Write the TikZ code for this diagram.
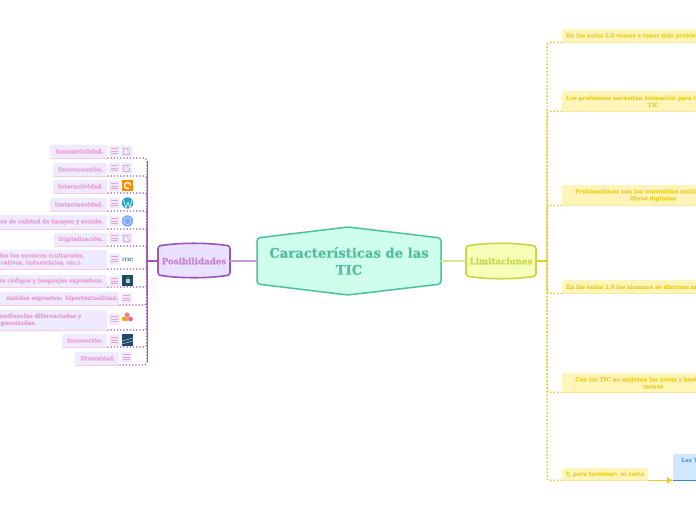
\documentclass[tikz,border=0pt]{standalone}
\usepackage{fontspec}
\setmainfont[BoldFeatures={FakeBold=0.5}]{DejaVu Serif}
\usetikzlibrary{arrows.meta,calc}
\definecolor{cenfill}{HTML}{CFFFEC}
\definecolor{cenline}{HTML}{4CBFA0}
\definecolor{cental}{HTML}{52BE9F}
\definecolor{posfill}{HTML}{E9E1FF}
\definecolor{posline}{HTML}{9B55B5}
\definecolor{postext}{HTML}{C985D2}
\definecolor{poslink}{HTML}{C99BD8}
\definecolor{limfill}{HTML}{F6FFB8}
\definecolor{limline}{HTML}{C9D63F}
\definecolor{limtext}{HTML}{CBD84E}
\definecolor{limlink}{HTML}{DFE68F}
\definecolor{itemfill}{HTML}{EFEAFD}
\definecolor{itemline}{HTML}{F8CDE0}
\definecolor{itemtext}{HTML}{E8A3D4}
\definecolor{yfill}{HTML}{FFF5B8}
\definecolor{yline}{HTML}{FCE9A0}
\definecolor{ytext}{HTML}{EBD22E}
\definecolor{ytrunk}{HTML}{E6CE1A}
\definecolor{bfill}{HTML}{CFE8FF}
\definecolor{bline}{HTML}{2E8FD8}
\definecolor{btext}{HTML}{6FA6CF}
\definecolor{wpblue}{HTML}{2AA3C8}
\definecolor{globeblue}{HTML}{7EA7F5}
\definecolor{ticgray}{HTML}{5F8A96}
\definecolor{darkicon}{HTML}{1F4A63}
\tikzset{
  leftbox/.style={fill=itemfill,rounded corners=1.5pt,inner sep=0pt,align=right,text=itemtext,font=\bfseries\fontsize{5.5}{7}\selectfont,anchor=south west},
  rightbox/.style={fill=yfill,rounded corners=1.5pt,inner sep=0pt,align=center,text=ytext,font=\bfseries\fontsize{5.5}{7}\selectfont,anchor=north west},
  leftunder/.style={itemline,line width=1pt},
  rightunder/.style={yline,line width=1pt},
  pdot/.style={posline,line width=1.2pt,dotted,rounded corners=3pt},
  ydot/.style={ytrunk,line width=1.5pt,dotted,rounded corners=3pt},
  iconbox/.style={fill=itemfill,rounded corners=1pt,inner sep=0pt,minimum width=11pt,minimum height=11pt,anchor=west},
  hub/.style={inner sep=0pt,align=center,font=\bfseries},
}
% note icon: three lines in a pale box
\newcommand{\noteicon}[3]{\node[iconbox] (#1) at (#2,#3) {};
  \foreach \dd in {-2.7,0,2.7}{\draw[itemtext,line width=.8pt] ($(#1.center)+(-3.3,\dd)$) -- ($(#1.center)+(3.3,\dd)$);}}
\newcommand{\linkicon}[3]{\node[iconbox] (#1) at (#2,#3) {};
  \draw[itemtext,line width=.5pt] ($(#1.center)+(1,-3)$) -- ($(#1.center)+(-3,-3)$) -- ($(#1.center)+(-3,3)$) -- ($(#1.center)+(3,3)$) -- ($(#1.center)+(3,0)$);
  \draw[itemtext,line width=.5pt] ($(#1.center)+(0,0)$) -- ($(#1.center)+(3.2,-3.2)$);}
% name, left, right, top, bottom, text
\newcommand{\leftitem}[6]{%
  \pgfmathsetmacro{\itemW}{#3-#2}\pgfmathsetmacro{\itemH}{#5-#4}%
  \node[leftbox,text width=\itemW pt,minimum height=\itemH pt] (#1) at (#2,#5) {#6\hspace*{4pt}};
  \draw[leftunder] (#1.south west) -- (#1.south east);
  \draw[pdot] (#1.south east) -| (ptrunk);}
% name, width, top, bottom, text
\newcommand{\rightitem}[5]{%
  \pgfmathsetmacro{\itemH}{#4-#3}%
  \node[rightbox,text width=#2pt,minimum height=\itemH pt] (#1) at (562,#3) {#5};
  \draw[rightunder] (#1.south west) -- (#1.south east);
  \draw[ydot] (#1.south west) -| (ytrunkc);}
\newcommand{\cutline}[2]{\makebox[182pt][l]{\hspace*{#1}#2}}
\newcommand{\padend}[1]{\rule{#1}{0pt}}
\begin{document}
\begin{tikzpicture}[x=1pt,y=-1pt]
\useasboundingbox (0,0) rectangle (696,520);
\clip (0,0) rectangle (696,520);
\fill[white] (0,0) rectangle (696,520);

% hubs: outlines
\draw[cenline,fill=cenfill,line width=1.5pt,rounded corners=3pt]
  (257,238) -- (348,227) -- (441,238) -- (441,284) -- (348,295) -- (257,284) -- cycle;
\draw[posline,fill=posfill,line width=1.6pt,rounded corners=2.5pt]
  (158,246) .. controls (180,242.5) and (208,242.5) .. (230,246) -- (230,275) .. controls (208,278.5) and (180,278.5) .. (158,275) -- cycle;
\draw[limline,fill=limfill,line width=1.6pt,rounded corners=2.5pt]
  (466,246) .. controls (488,242.5) and (514,242.5) .. (536,246) -- (536,276) .. controls (514,279.5) and (488,279.5) .. (466,276) -- cycle;

\node[hub,text=cental,font=\bfseries\fontsize{13.2}{17}\selectfont,minimum width=184pt,minimum height=68pt] (cen) at (349,261) {Características de las\\TIC};
\node[hub,text=postext,font=\bfseries\fontsize{8.7}{10}\selectfont,minimum width=72pt,minimum height=36pt] (pos) at (194,261) {Posibilidades};
\node[hub,text=limtext,font=\bfseries\fontsize{8.7}{10}\selectfont,minimum width=70pt,minimum height=36pt] (lim) at (501,261) {Limitaciones};

\draw[poslink,line width=1.2pt] (pos.east) -- (cen.west);
\draw[limlink,line width=1.2pt] (cen.east) -- (lim.west);

\coordinate (ptrunk) at (147,261);
\coordinate (ytrunkc) at (547,261);
\draw[posline,line width=1.6pt] (pos.west) -- (ptrunk);
\draw[ytrunk,line width=1.6pt] (lim.east) -- (ytrunkc);

% left items
\leftitem{i1}{50}{107}{145}{158}{Inmaterialidad.}
\leftitem{i2}{53}{107}{163}{176}{Interconexión.}
\leftitem{i3}{53}{107}{180}{193}{Interactividad.}
\leftitem{i4}{50}{107}{198}{211}{Instantaneidad.}
\leftitem{i5}{-5}{107}{215}{229}{os de calidad de imagen y sonido.}
\leftitem{i6}{54}{107}{233}{246}{Digitalización.}
\leftitem{i7}{-5}{107}{250}{269}{dos los sectores (culturales,\padend{23pt}\\cativos, industriales, etc.).\padend{21pt}}
\leftitem{i8}{-5}{107}{275}{287}{os códigos y lenguajes expresivos.}
\leftitem{i9}{-5}{119}{292}{305}{nalidad expresiva: hipertextualidad.\hspace*{-3pt}}
\leftitem{i10}{-5}{107}{310}{330}{audiencias diferenciadas y\padend{26pt}\\gmentadas.\padend{67pt}}
\leftitem{i11}{62}{107}{334}{347}{Innovación.}
\leftitem{i12}{75}{119}{352}{365}{Diversidad.}
\draw[posline,line width=.8pt] ($(i1.south east -| ptrunk)+(0,3)$) -- ($(i12.south east -| ptrunk)+(0,-3)$);

% note icons
\noteicon{n1}{109}{151}
\noteicon{n2}{109}{168}
\noteicon{n3}{109}{186}
\noteicon{n4}{109}{203}
\noteicon{n5}{109}{221}
\noteicon{n6}{109}{238}
\noteicon{n7}{109}{259}
\noteicon{n8}{109}{281}
\noteicon{n9}{121}{298}
\noteicon{n10}{109}{319}
\noteicon{n11}{109}{340}
\noteicon{n12}{121}{357}
\linkicon{l1}{121}{151}
\linkicon{l2}{121}{168}
\linkicon{l6}{121}{238}

% picture icons
\fill[orange!90!yellow] (122,180) rectangle (133,191);
\draw[white,line width=1.3pt] (130.5,185.5) arc (0:300:3pt);
\fill[wpblue] (127.5,203) circle (5.7pt);
\draw[white,line width=.6pt] (123.5,200) -- (126,208) -- (128,202) -- (130,208) -- (132,200);
\fill[globeblue] (127.5,221) circle (5.7pt);
\draw[white!70!globeblue,line width=.5pt] (127.5,221) circle (3.6pt);
\node[inner sep=0pt,text=ticgray,font=\bfseries\fontsize{4.5}{5}\selectfont] (ic7) at (127.5,259.5) {iTIC};
\fill[darkicon] (122,275) rectangle (133,286);
\fill[white!70!darkicon] (126,279) rectangle (129.5,282.5);
\fill[green!60!darkicon] (127,276.5) rectangle (128.5,278);
\fill[orange!75!yellow] (124,319) circle (2.2pt);
\fill[red!35!pink] (127,315) circle (2.6pt);
\fill[purple!45!pink] (130.5,319) circle (2.4pt);
\fill[red!40!orange!60!white] (127,319.5) circle (1.8pt);
\fill[darkicon] (122,334) rectangle (133,346);
\draw[white!75!blue,line width=.5pt] (122,341) -- (133,338) (122,344) -- (133,341);

% right items
\rightitem{r1}{182}{29}{42}{\cutline{4pt}{En las aulas 2.0 vamos a tener más problem}}
\rightitem{r2}{182}{91}{111}{\cutline{4pt}{Los profesores necesitan formación para i}\\TIC}
\rightitem{r3}{182}{185}{205}{\cutline{13pt}{Problemáticas con los contenidos multi}\\libros digitales}
\rightitem{r4}{182}{280}{293}{\cutline{4pt}{En las aulas 2.0 los alumnos se distraen m}}
\rightitem{r5}{182}{373}{392}{\cutline{13pt}{Con las TIC no mejoran las notas y hast}\\menos}
\rightitem{r6}{86}{468}{480}{Y, para terminar: el costo}

% blue box
\node[fill=bfill,rounded corners=1.5pt,inner sep=0pt,minimum width=40pt,minimum height=26pt,anchor=north west] (b1) at (673,454) {};
\draw[bline,line width=1pt] (b1.south west) -- (b1.south east);
\node[inner sep=0pt,text=btext,font=\bfseries\fontsize{5.5}{7}\selectfont,anchor=west] (b1t) at (681,460) {Las T};
\draw[ytrunk,line width=1.5pt,-{Latex[length=6pt,width=7pt]}] (r6.south east) -- (b1.south west);
\end{tikzpicture}
\end{document}
